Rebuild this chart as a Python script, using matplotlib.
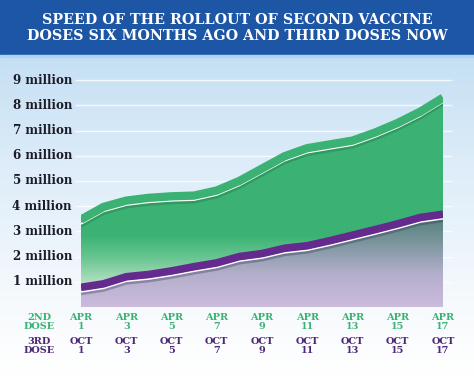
import numpy as np
import matplotlib
matplotlib.use("Agg")
import matplotlib.pyplot as plt
import matplotlib.patheffects as pe
from matplotlib.colors import LinearSegmentedColormap

# data (millions), one point per day
days = list(range(1, 18))
second_dose = [3.47, 3.97, 4.22, 4.33, 4.39, 4.42, 4.62, 5.0, 5.49, 5.98,
               6.3, 6.45, 6.6, 6.92, 7.3, 7.75, 8.3]
third_dose = [0.78, 0.92, 1.2, 1.29, 1.43, 1.6, 1.75, 2.0, 2.12, 2.33,
              2.43, 2.63, 2.85, 3.07, 3.3, 3.55, 3.68]
tick_days = days[::2]
apr_labels = ["APR\n%d" % d for d in tick_days]
oct_labels = ["OCT\n%d" % d for d in tick_days]
y_ticks = list(range(1, 10))
y_labels = ["%d million" % v for v in y_ticks]

title = "SPEED OF THE ROLLOUT OF SECOND VACCINE\nDOSES SIX MONTHS AGO AND THIRD DOSES NOW"

GREEN = "#3bb273"
PURPLE = "#642a8e"
TXT_GREEN = "#3bb273"
TXT_PURPLE = "#4e2777"
FONT = "DejaVu Serif"

fig = plt.figure(figsize=(4.74, 3.77), dpi=100)

# background gradient
bg = fig.add_axes([0, 0, 1, 1], zorder=0)
bg.axis("off")
bg_cmap = LinearSegmentedColormap.from_list(
    "bg", [(0, "#ffffff"), (0.2, "#f6fafd"), (0.55, "#deedf9"), (1, "#b9d9f1")])
bg.imshow(np.linspace(0, 1, 256).reshape(-1, 1)[::-1], aspect="auto", cmap=bg_cmap,
          extent=[0, 1, 0, 1], origin="upper")
bg.set_xlim(0, 1)
bg.set_ylim(0, 1)

# title banner
bg.add_patch(plt.Rectangle((0, 1 - 55 / 377), 1, 55 / 377, color="#1d56a5", zorder=2))
bg.add_patch(plt.Rectangle((0, 1 - 57 / 377), 1, 2 / 377, color="#a9d6f2", zorder=2))
bg.text(0.5, 1 - 28 / 377, title, ha="center", va="center", color="white",
        fontsize=10.3, fontweight="bold", family=FONT, linespacing=1.1, zorder=3)

ax = fig.add_axes([81 / 474, 70 / 377, 362 / 474, 237 / 377], zorder=1)
ax.patch.set_alpha(0)
ax.set_xlim(1, 17)
ax.set_ylim(0, 9.4)
for s in ax.spines.values():
    s.set_visible(False)
ax.set_xticks([])
ax.set_yticks([])

# grid lines (extend past the plot a bit)
ax.hlines(y_ticks, 0.73, 17.4, color="white", lw=1.0, alpha=0.8, clip_on=False, zorder=1)

# y labels
yt = ax.get_yaxis_transform()
for v, lab in zip(y_ticks, y_labels):
    ax.text(-0.025, v, lab, ha="right", va="center", fontsize=8.6, fontweight="bold",
            family=FONT, color="#1c1c28", transform=yt)

# gradient fill between the two series (green)
g_cmap = LinearSegmentedColormap.from_list(
    "g", [(0, "#e2f3e7"), (0.1, "#b4e0c2"), (0.2, "#6cc793"), (0.3, GREEN), (1, GREEN)])
poly = ax.fill_between(days, third_dose, second_dose, color="none", zorder=2)
im = ax.imshow(np.linspace(0, 1, 256).reshape(-1, 1)[::-1], aspect="auto", cmap=g_cmap,
               extent=[1, 17, 0, 9.4], origin="upper", zorder=2)
im.set_clip_path(poly.get_paths()[0], transform=ax.transData)

# gradient fill below the third-dose series
p_cmap = LinearSegmentedColormap.from_list(
    "p", [(0, "#cbbbdc"), (0.35, "#b3aecb"), (0.7, "#77939a"), (1, "#4a7c72")])
poly2 = ax.fill_between(days, 0, third_dose, color="none", zorder=2)
im2 = ax.imshow(np.linspace(0, 1, 256).reshape(-1, 1)[::-1], aspect="auto", cmap=p_cmap,
                extent=[1, 17, 0, 3.8], origin="upper", zorder=2)
im2.set_clip_path(poly2.get_paths()[0], transform=ax.transData)

line_fx = lambda dark: [
    pe.SimpleLineShadow(offset=(0, -4.2), shadow_color=dark, alpha=0.35, linewidth=3),
    pe.SimpleLineShadow(offset=(0, -3.2), shadow_color="white", alpha=1, linewidth=1.3),
    pe.Normal(),
]
ax.plot(days, second_dose, color=GREEN, lw=6, solid_capstyle="butt", zorder=4,
        path_effects=line_fx("#1f6b45"))
ax.plot(days, third_dose, color=PURPLE, lw=5.5, solid_capstyle="butt", zorder=4,
        path_effects=line_fx("#333355"))

# x labels (two rows, two colours)
xt = ax.get_xaxis_transform()
for d, a, o in zip(tick_days, apr_labels, oct_labels):
    ax.text(d, -0.025, a, transform=xt, ha="center", va="top", fontsize=7,
            fontweight="bold", family=FONT, color=TXT_GREEN, linespacing=1.0)
    ax.text(d, -0.125, o, transform=xt, ha="center", va="top", fontsize=7,
            fontweight="bold", family=FONT, color=TXT_PURPLE, linespacing=1.0)
ax.text(-0.115, -0.025, "2ND\nDOSE", transform=ax.transAxes, ha="center", va="top",
        fontsize=7, fontweight="bold", family=FONT, color=TXT_GREEN, linespacing=1.0)
ax.text(-0.115, -0.125, "3RD\nDOSE", transform=ax.transAxes, ha="center", va="top",
        fontsize=7, fontweight="bold", family=FONT, color=TXT_PURPLE, linespacing=1.0)

fig.savefig("out.png", dpi=100)
